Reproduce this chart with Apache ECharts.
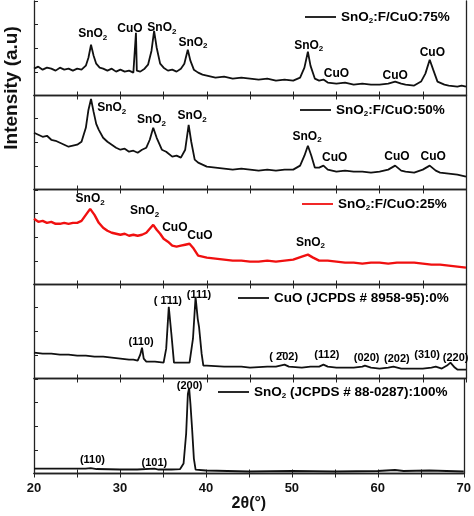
<!DOCTYPE html>
<html><head><meta charset="utf-8">
<script src="https://cdn.jsdelivr.net/npm/echarts@6/dist/echarts.min.js"></script>
<style>html,body{margin:0;padding:0;background:#fff}#c{width:474px;height:516px}</style>
</head><body><div id="c"></div>
<script>
const xTicks = [20,30,40,50,60,70];
const names = ['SnO{s|2}:F/CuO:75%','SnO{s|2}:F/CuO:50%','SnO{s|2}:F/CuO:25%','CuO (JCPDS # 8958-95):0%','SnO{s|2} (JCPDS # 88-0287):100%'];
const colors = ['#111','#111','#f01010','#111','#111'];
const s75 = [[20,27],[20.5,29],[21,26],[21.5,28],[22,27],[22.5,25],[23,28],[23.5,26],[24,27],[24.5,25],[25,27],[25.5,26],[26,30],[26.3,38],[26.6,51],[26.9,40],[27.2,32],[27.6,28],[28,27],[28.5,25],[29,27],[29.5,24],[30,26],[30.5,24],[31,25],[31.5,23],[31.7,24],[31.8,63],[31.9,25],[32.3,24],[32.8,27],[33.2,31],[33.6,45],[33.9,65],[34.2,48],[34.6,32],[35,28],[35.5,25],[36,26],[36.5,24],[37,27],[37.4,32],[37.8,46],[38.1,35],[38.5,26],[39,23],[39.5,21],[40,20],[41,18],[42,19],[43,17],[44,18],[45,17],[46,16],[47,17],[48,15],[49,16],[50,15],[50.8,18],[51.3,28],[51.7,44],[52,30],[52.5,17],[53,15],[53.5,16],[54,13],[55,12],[56,13],[57,11],[58,12],[59,11],[60,11],[61,12],[61.8,14],[62.5,12],[63,11],[64,10],[64.8,14],[65.3,22],[65.8,36],[66.2,26],[66.7,14],[67.5,11],[68,10],[69,9],[69.5,10],[70,9]];
const s50 = [[20,57],[20.5,55],[21,53],[21.5,54],[22,50],[22.5,49],[23,47],[23.5,45],[24,43],[24.5,44],[25,45],[25.5,48],[26,62],[26.3,80],[26.6,91],[26.9,78],[27.2,66],[27.5,60],[28,52],[28.5,48],[29,45],[29.5,42],[30,40],[30.5,41],[31,38],[31.5,39],[32,37],[32.5,40],[33,42],[33.4,50],[33.8,62],[34.2,52],[34.8,40],[35.3,38],[36,33],[36.5,34],[37,32],[37.5,40],[37.9,65],[38.2,48],[38.6,30],[39,27],[39.5,25],[40,23],[41,22],[42,21],[43,20],[44,21],[45,20],[46,19],[47,20],[48,19],[49,20],[50,20],[50.8,24],[51.3,34],[51.7,44],[52.1,34],[52.5,22],[53,22],[53.5,24],[54,20],[55,18],[56,19],[57,18],[58,18],[59,17],[60,18],[61,20],[61.8,24],[62.5,19],[63,18],[64,17],[65,20],[65.8,24],[66.5,19],[67,17],[68,16],[69,15],[70,13]];
const s25 = [[20,66],[20.5,63],[21,64],[21.5,62],[22,63],[22.5,61],[23,61],[23.5,62],[24,61],[24.5,62],[25,62],[25.5,64],[26,70],[26.5,76],[27,70],[27.5,62],[28,57],[28.5,54],[29,52],[29.5,51],[30,50],[30.5,51],[31,49],[31.5,50],[32,49],[32.5,50],[33,52],[33.5,57],[33.8,60],[34.2,55],[34.6,51],[35,46],[35.5,43],[36,39],[36.5,38],[37,39],[37.5,40],[38,41],[38.4,37],[39,29],[39.5,28],[40,27],[41,26],[42,25],[43,24],[44,24],[45,23],[46,23],[47,24],[48,23],[49,24],[50,25],[51,28],[51.7,30],[52.3,27],[53,24],[54,24],[55,23],[56,22],[57,22],[58,21],[59,22],[60,22],[61,21],[62,22],[63,22],[64,22],[65,21],[66,20],[67,20],[68,19],[69,18],[70,17]];
const s0 = [[20,26],[21,25],[22,25],[23,24],[24,24],[25,23],[26,23],[27,22],[28,22],[29,21],[30,20],[31,19],[31.5,19],[32,18],[32.3,24],[32.5,31],[32.7,20],[33,17],[34,17],[35,16],[35.3,30],[35.6,72],[35.9,45],[36.2,16],[37,16],[38,16],[38.4,40],[38.7,82],[38.95,60],[39.1,52],[39.4,25],[39.6,13],[40,13],[42,12],[44,12],[45,11],[47,12],[48,12],[49,14],[49.5,12],[51,11],[52,12],[53,12],[53.5,14],[54,12],[55,11],[56,11],[57,11],[58,12],[58.3,13],[59,11],[60,10],[61,11],[61.6,12],[62.5,10],[64,10],[65,10],[66,11],[66.5,12],[67.2,10],[67.8,13],[68.2,16],[68.7,11],[69,9],[70,9]];
const s100 = [[20,5],[22,5],[24,5],[26,5],[26.6,5.5],[27.3,4.5],[30,4],[32,4],[34,5],[34.5,4],[36,4],[37,4.5],[37.4,10],[37.7,40],[37.9,80],[38.05,86],[38.2,70],[38.4,44],[38.6,15],[38.8,4],[40,3],[45,2],[50,2.5],[55,2],[60,2.5],[62,3.5],[63,2.5],[66,3],[70,2]];
const seriesData = [s75,s50,s25,s0,s100];
const ann75 = [['SnO{s|2}',26.8,62],['CuO',31.1,67],['SnO{s|2}',34.8,68],['SnO{s|2}',38.4,53],['SnO{s|2}',51.8,50],['CuO',55.0,22],['CuO',61.8,20],['CuO',66.1,43]];
const ann50 = [['SnO{s|2}',29.0,82],['SnO{s|2}',33.6,70],['SnO{s|2}',38.3,74],['SnO{s|2}',51.6,53],['CuO',54.8,32],['CuO',62.0,33],['CuO',66.2,33]];
const ann25 = [['SnO{s|2}',26.5,86],['SnO{s|2}',32.8,74],['CuO',36.3,57],['CuO',39.2,49],['SnO{s|2}',52.0,42]];
const ann0 = [['(110)',32.4,37],['( 1\u030411)',35.5,78],['(111)',39.1,84],['( 2\u030402)',48.9,22],['(112)',53.9,24],['(020)',58.5,21],['(202)',62.0,20],['(310)',65.5,24],['(220)',68.8,21]];
const ann100 = [['(110)',26.8,14],['(101)',34.0,11],['(200)',38.1,88]];
const anns = [ann75,ann50,ann25,ann0,ann100];

const tops=[1,95,190,284,379], H=94.5;
const legendPos=[[305,17],[300,110],[302,204],[238,298],[218,392]];
const rich={s:{fontSize:8,fontWeight:'bold',color:'#000',fontFamily:'Liberation Sans',padding:[7,0,0,0]}};
const grid=[],xAxis=[],yAxis=[],series=[],graphic=[];
for(let i=0;i<5;i++){
  grid.push({left:34,right:8,top:tops[i],height:H});
  const last=i===4;
  const ax={type:'value',gridIndex:i,min:20,max:70,interval:5,
    axisLine:{lineStyle:{color:'#222',width:1.3}},axisTick:{inside:true,length:4,lineStyle:{color:'#222'}},
    splitLine:{show:false},axisLabel:{show:false}};
  xAxis.push(Object.assign({},ax,{position:'bottom',axisLabel:{show:last,color:'#111',fontWeight:'bold',fontSize:13,fontFamily:'Liberation Sans',
    formatter:v=>xTicks.includes(v)?String(v):''},
    name:last?'2θ(°)':'',nameLocation:'middle',nameGap:22,nameTextStyle:{fontWeight:'bold',fontSize:16,color:'#111',fontFamily:'Liberation Sans'}}));
  xAxis.push(Object.assign({},ax,{position:'top'}));
  const ay={type:'value',gridIndex:i,min:0,max:95,interval:23.75,axisLabel:{show:false},splitLine:{show:false},
    axisLine:{show:true,lineStyle:{color:'#222',width:1.3}},axisTick:{show:true,inside:true,length:4,lineStyle:{color:'#222'}}};
  yAxis.push(Object.assign({},ay,{position:'left'}));
  yAxis.push(Object.assign({},ay,{position:'right',axisTick:{show:false}}));
  series.push({type:'line',xAxisIndex:2*i,yAxisIndex:2*i,data:seriesData[i],symbol:'none',
    lineStyle:{color:colors[i],width:i===2?2.4:1.8},silent:true});
  series.push({type:'scatter',xAxisIndex:2*i,yAxisIndex:2*i,symbolSize:0,silent:true,itemStyle:{opacity:1},
    data:anns[i].map(a=>({value:[a[1],a[2]],name:a[0]})),
    label:{show:true,position:'inside',formatter:p=>p.name,color:'#000',opacity:1,fontWeight:'bold',fontSize:i>=3?11:12,fontFamily:'Liberation Sans',rich:rich}});
  const [lx,ly]=legendPos[i];
  graphic.push({type:'line',shape:{x1:lx,y1:ly,x2:lx+31,y2:ly},style:{stroke:colors[i],lineWidth:1.8}});
  graphic.push({type:'text',x:lx+36,y:ly,style:{text:names[i],fill:'#000',font:'bold 13.5px Liberation Sans',verticalAlign:'middle',
    rich:{s:{fontSize:8,fontWeight:'bold',fill:'#000',fontFamily:'Liberation Sans',padding:[8,0,0,0]}}}});
}
graphic.push({type:'text',x:12,y:88,rotation:Math.PI/2,style:{text:'Intensity (a.u)',fill:'#111',font:'bold 19px Liberation Sans',align:'center',verticalAlign:'middle'}});
const chart=echarts.init(document.getElementById('c'));
chart.setOption({animation:false,grid,xAxis,yAxis,series,graphic});
</script></body></html>
